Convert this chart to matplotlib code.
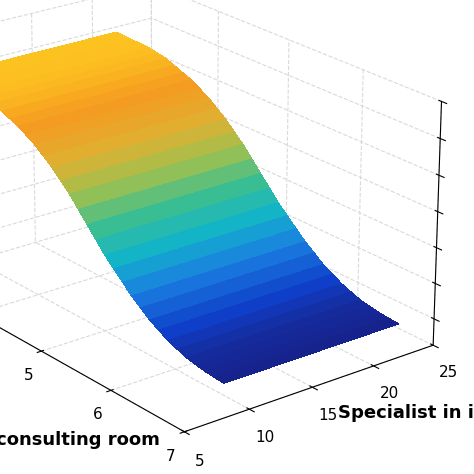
import numpy as np
import matplotlib
matplotlib.use("Agg")
import matplotlib.pyplot as plt
from matplotlib.colors import LinearSegmentedColormap

rooms = np.array([3.0, 3.25, 3.5, 3.625, 3.75, 3.875, 4.0, 4.125, 4.25, 4.375, 4.5, 4.625,
                  4.75, 4.875, 5.0, 5.125, 5.25, 5.375, 5.5, 5.625, 5.75,
                  5.875, 6.0, 6.125, 6.25, 6.375, 6.5, 6.625, 6.75, 6.875, 7.0])
specialists = np.array([8, 11, 14, 17, 20, 22])
z_by_room = np.array([0.97, 0.965, 0.96, 0.95, 0.94, 0.92, 0.90, 0.88, 0.85, 0.82, 0.78, 0.74,
                      0.69, 0.64, 0.58, 0.52, 0.46, 0.40, 0.35, 0.30, 0.25,
                      0.21, 0.17, 0.14, 0.11, 0.09, 0.07, 0.06, 0.05, 0.045, 0.04])

parula = LinearSegmentedColormap.from_list("parula", [
    "#1b1670", "#0f3fc8", "#1a80e0", "#14b4c8", "#3cbf90",
    "#9ac050", "#e0b030", "#f59a20", "#ffd020"])

X, Y = np.meshgrid(rooms, specialists, indexing="ij")
Z = np.repeat(z_by_room[:, None], len(specialists), axis=1)

fig = plt.figure(figsize=(4.74, 4.74), dpi=100)
ax = fig.add_axes([-0.49, -0.05, 1.65, 1.25], projection="3d")
ax.set_box_aspect((1.45, 1, 0.82))
ax.plot_surface(X, Y, Z, cmap=parula, rstride=1, cstride=1, linewidth=0,
                antialiased=False, shade=False, vmin=0, vmax=1.0)
ax.view_init(elev=22, azim=-38)
ax.set_xlim(3, 7)
ax.set_ylim(5, 25)
ax.set_zlim(-0.15, 1.2)
ax.set_xticks([3, 4, 5, 6, 7])
ax.set_yticks([5, 10, 15, 20, 25])
ax.set_zticklabels([])
for a in (ax.xaxis, ax.yaxis, ax.zaxis):
    a.set_pane_color((1, 1, 1, 1))
    a._axinfo["grid"]["color"] = (0.85, 0.85, 0.85, 1)
    a._axinfo["grid"]["linestyle"] = "--"
    a.line.set_color("black")
ax.tick_params(labelsize=11)
fig.text(160 / 474, 1 - 440 / 474, "Number of consulting room", fontweight="bold",
         fontsize=13, ha="right", va="center")
fig.text(338 / 474, 1 - 413 / 474, "Specialist in internal medicine", fontweight="bold",
         fontsize=13, ha="left", va="center")
fig.savefig("out.png", dpi=100)
